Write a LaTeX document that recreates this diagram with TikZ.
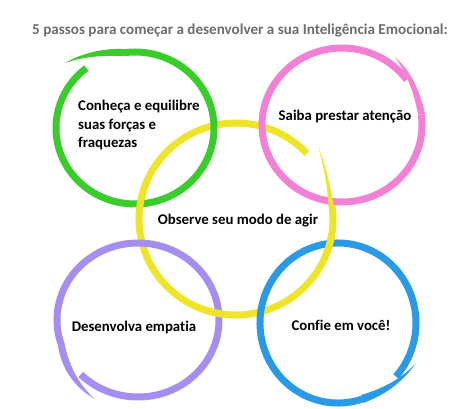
\documentclass[tikz,border=0pt]{standalone}
\usepackage{fontspec}
\setmainfont{Carlito}[Ligatures=CommonOff]
\definecolor{titlegrey}{RGB}{108,108,108}
\definecolor{ringgreen}{RGB}{58,204,42}
\definecolor{ringpink}{RGB}{242,128,212}
\definecolor{ringyellow}{RGB}{238,228,42}
\definecolor{ringpurple}{RGB}{166,142,240}
\definecolor{ringblue}{RGB}{42,154,230}
\begin{document}
\begin{tikzpicture}[x=1pt, y=-1pt,
  ring/.style={line width=7pt},
  label/.style={font=\fontsize{14.8}{18.2}\selectfont\bfseries, align=left, inner sep=0pt}]
  \useasboundingbox (0,0) rectangle (474,409);
  \coordinate (g) at (135,128);
  \coordinate (p) at (342,125);
  \coordinate (y) at (236,219);
  \coordinate (u) at (138,320);
  \coordinate (b) at (338,323);
  \node[font=\fontsize{15.1}{18}\selectfont\bfseries, text=titlegrey] (title) at (240,30)
    {5 passos para começar a desenvolver a sua Inteligência Emocional:};
  \draw[ring, ringyellow] (y) ++(-12:97 and 96) arc[start angle=-12, end angle=317, x radius=97, y radius=96];
  \draw[ring, ringgreen] (g) ++(232:79 and 76) arc[start angle=232, end angle=-98, x radius=79, y radius=76];
  \fill[ringgreen] (124,49) .. controls (102,48) and (80,54) .. (65,63) .. controls (82,57) and (102,55) .. (124,56) -- cycle;
  \draw[ring, ringpink] (p) ++(-8:80 and 77) arc[start angle=-8, end angle=324, x radius=80, y radius=77];
  \fill[ringpink] (395,57) .. controls (410,70) and (420,90) .. (425,114) -- (418,114) .. controls (414,92) and (406,72) .. cycle;
  \draw[ring, ringpurple] (u) ++(135:81 and 77) arc[start angle=135, end angle=-200, x radius=81, y radius=77];
  \fill[ringpurple] (58,346) .. controls (62,370) and (75,388) .. (95,399) .. controls (80,386) and (70,368) .. (65,346) -- cycle;
  \draw[ring, ringblue] (b) ++(72:78 and 80) arc[start angle=72, end angle=402, x radius=78, y radius=80];
  \fill[ringblue] (361,395) .. controls (385,388) and (402,378) .. (416,363) .. controls (404,380) and (388,394) .. (363,403) -- cycle;
  \fill[ringyellow] (318,147) .. controls (326,165) and (332,190) .. (336,222) -- (330,222) .. controls (328,190) and (324,165) .. cycle;
  \draw[ring, ringyellow] (y) ++(185:97 and 96) arc[start angle=185, end angle=203, x radius=97, y radius=96];
  \draw[ring, ringyellow] (y) ++(95:97 and 96) arc[start angle=95, end angle=110, x radius=97, y radius=96];
  \draw[ring, ringyellow] (y) ++(10:97 and 96) arc[start angle=10, end angle=25, x radius=97, y radius=96];
  \node[label, anchor=west] (know) at (78,125) {Conheça e equilibre\\suas forças e\\fraquezas};
  \node[label] (attention) at (345,117) {Saiba prestar atenção};
  \node[label] (observe) at (238,221) {Observe seu modo de agir};
  \node[label] (empathy) at (134,327) {Desenvolva empatia};
  \node[label] (trust) at (341,325) {Confie em você!};
\end{tikzpicture}
\end{document}
